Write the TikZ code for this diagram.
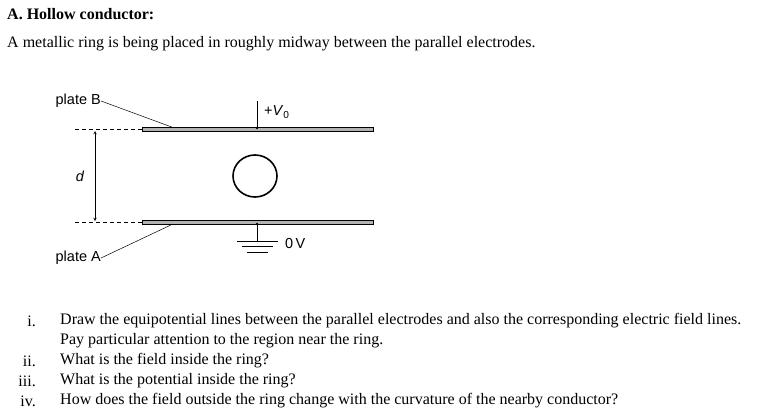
\documentclass[tikz,border=0pt]{standalone}
\usepackage{fontspec}
\setmainfont{Liberation Serif}
\newfontfamily\lsans{Liberation Sans}
\begin{document}
\begin{tikzpicture}[x=1pt,y=-1pt,
  txt/.style={anchor=west,inner sep=0pt,font=\fontsize{16}{18}\selectfont},
  lab/.style={inner sep=0pt,font=\lsans\fontsize{14.5}{16}\selectfont},
  plate/.style={draw=black,fill=gray!60,line width=0.8pt},
  thin/.style={line width=0.5pt},
  dsh/.style={thin,dash pattern=on 4pt off 3pt}]
\useasboundingbox (0,0) rectangle (761,415);
\node[txt,font=\bfseries\fontsize{16}{18}\selectfont] (title) at (7,14) {A. Hollow conductor:};
\node[txt] (intro) at (7,44) {A metallic ring is being placed in roughly midway between the parallel electrodes.};
% plates
\draw[plate] (142,127.5) rectangle (373,131);
\draw[plate] (142,220.5) rectangle (373,224);
\coordinate (bl) at (173,127.5); \coordinate (al) at (173,224);
\draw[dsh] (75,129.5) -- (142,129.5);
\draw[dsh] (75,222.5) -- (142,222.5);
\coordinate (dt) at (95,131); \coordinate (db) at (95,221);
\draw[thin,<->,>=stealth] (dt) -- (db);
\node[lab,font=\lsans\itshape\fontsize{14.5}{16}\selectfont] (d) at (80,176) {d};
\draw[line width=1.6pt] (255,176) ellipse (22 and 21);
% V0
\coordinate (vt) at (257,101); \coordinate (vb) at (257,128);
\draw[thin] (vt) -- (vb); \fill (vb) circle (1.3);
\node[lab,anchor=west] (v0) at (264,112) {+\textit{V}\textsubscript{0}};
% ground
\coordinate (gt) at (257,224); \coordinate (gb) at (257,241);
\fill (gt) circle (1.3);
\draw[thin] (gt) -- (gb);
\draw[thin] (237,241) -- (278,241);
\draw[thin] (242,246.5) -- (273,246.5);
\draw[thin] (247,252) -- (268,252);
\node[lab,anchor=west] (zv) at (285,244) {0\,V};
\node[lab,anchor=east] (pb) at (101,101) {plate B};
\node[lab,anchor=east] (pa) at (101,258) {plate A};
\draw[thin] (pb.east) -- (bl);
\draw[thin] (pa.east) -- (al);
% list
\node[txt,anchor=east] (n1) at (36,321) {i.};
\node[txt] (t1) at (60,321) {Draw the equipotential lines between the parallel electrodes and also the corresponding electric field lines.};
\node[txt] (t1b) at (60,341) {Pay particular attention to the region near the ring.};
\node[txt,anchor=east] (n2) at (36,361) {ii.};
\node[txt] (t2) at (60,361) {What is the field inside the ring?};
\node[txt,anchor=east] (n3) at (36,381) {iii.};
\node[txt] (t3) at (60,381) {What is the potential inside the ring?};
\node[txt,anchor=east] (n4) at (36,401) {iv.};
\node[txt] (t4) at (60,401) {How does the field outside the ring change with the curvature of the nearby conductor?};
\end{tikzpicture}
\end{document}
